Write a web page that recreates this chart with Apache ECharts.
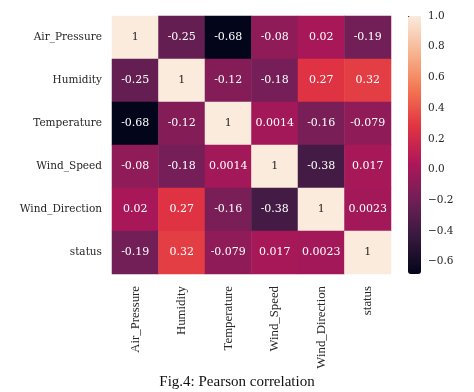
<!DOCTYPE html>
<html>
<head>
<meta charset="utf-8">
<script src="https://cdn.jsdelivr.net/npm/echarts@6/dist/echarts.min.js"></script>
<style>html,body{margin:0;padding:0;background:#fff;}#c{width:474px;height:392px;}</style>
</head>
<body>
<div id="c"></div>
<script>
const categories = ['Air_Pressure', 'Humidity', 'Temperature', 'Wind_Speed', 'Wind_Direction', 'status'];
const airPressure   = [1, -0.25, -0.68, -0.08, 0.02, -0.19];
const humidity      = [-0.25, 1, -0.12, -0.18, 0.27, 0.32];
const temperature   = [-0.68, -0.12, 1, 0.0014, -0.16, -0.079];
const windSpeed     = [-0.08, -0.18, 0.0014, 1, -0.38, 0.017];
const windDirection = [0.02, 0.27, -0.16, -0.38, 1, 0.0023];
const status        = [-0.19, 0.32, -0.079, 0.017, 0.0023, 1];
const colorbarTicks = [-0.6, -0.4, -0.2, 0.0, 0.2, 0.4, 0.6, 0.8, 1.0];
const caption = 'Fig.4: Pearson correlation';
const vmin = -0.68, vmax = 1;

const rows = [airPressure, humidity, temperature, windSpeed, windDirection, status];
const data = [];
rows.forEach((row, r) => row.forEach((v, c) => data.push([c, r, v])));

const rocket = ['#03051a', '#35193e', '#701f57', '#ad1759', '#e13342', '#f37651', '#f6b48f', '#faebdd'];

function fmt2g(v) { return String(Number(v.toPrecision(2))); }
function fmtBar(v) {
  const r = Math.round(v * 10) / 10;
  if (Math.abs(r) < 1e-9) return '0.0';
  return (r < 0 ? '\u2212' : '') + Math.abs(r).toFixed(1);
}

const chart = echarts.init(document.getElementById('c'), null, {renderer: 'canvas'});
chart.setOption({
  backgroundColor: '#ffffff',
  animation: false,
  grid: [
    {left: 112, top: 16, width: 279, height: 258},
    {left: 408, top: 16, width: 13, height: 258}
  ],
  xAxis: [
    {type: 'category', data: categories, gridIndex: 0,
     axisLine: {show: false}, axisTick: {show: false}, splitLine: {show: false},
     axisLabel: {rotate: 90, margin: 12, color: '#262626', fontFamily: 'Liberation Serif', fontSize: 12.8, interval: 0}},
    {type: 'value', gridIndex: 1, show: false}
  ],
  yAxis: [
    {type: 'category', data: categories, inverse: true, gridIndex: 0,
     axisLine: {show: false}, axisTick: {show: false}, splitLine: {show: false},
     axisLabel: {margin: 10, color: '#262626', fontFamily: 'DejaVu Serif', fontSize: 10.5, interval: 0}},
    {type: 'value', gridIndex: 1, min: vmin, max: vmax, position: 'right',
     axisLine: {show: false}, splitLine: {show: false},
     axisTick: {show: true, length: 4, customValues: colorbarTicks, lineStyle: {color: '#262626', width: 1}},
     axisLabel: {show: true, margin: 7, customValues: colorbarTicks, formatter: fmtBar, color: '#262626', fontFamily: 'DejaVu Serif', fontSize: 10.5}}
  ],
  visualMap: {
    type: 'continuous', min: vmin, max: vmax, calculable: false, seriesIndex: 0,
    orient: 'vertical', left: 408, top: 16, itemWidth: 13, itemHeight: 258,
    text: null, hoverLink: false, padding: 0,
    inRange: {color: rocket}
  },
  series: [{
    type: 'heatmap', xAxisIndex: 0, yAxisIndex: 0,
    data: data.map(d => ({value: d, label: {color: d[2] > 0.8 ? '#262626' : '#ffffff'}})),
    label: {
      show: true, fontFamily: 'DejaVu Serif', fontSize: 11,
      formatter: p => fmt2g(p.value[2])
    },
    emphasis: {disabled: true}
  }],
  graphic: [{
    type: 'text', left: 'center', top: 375,
    style: {text: caption, font: '15px "Liberation Serif"', fill: '#111'}
  }]
});
</script>
</body>
</html>
